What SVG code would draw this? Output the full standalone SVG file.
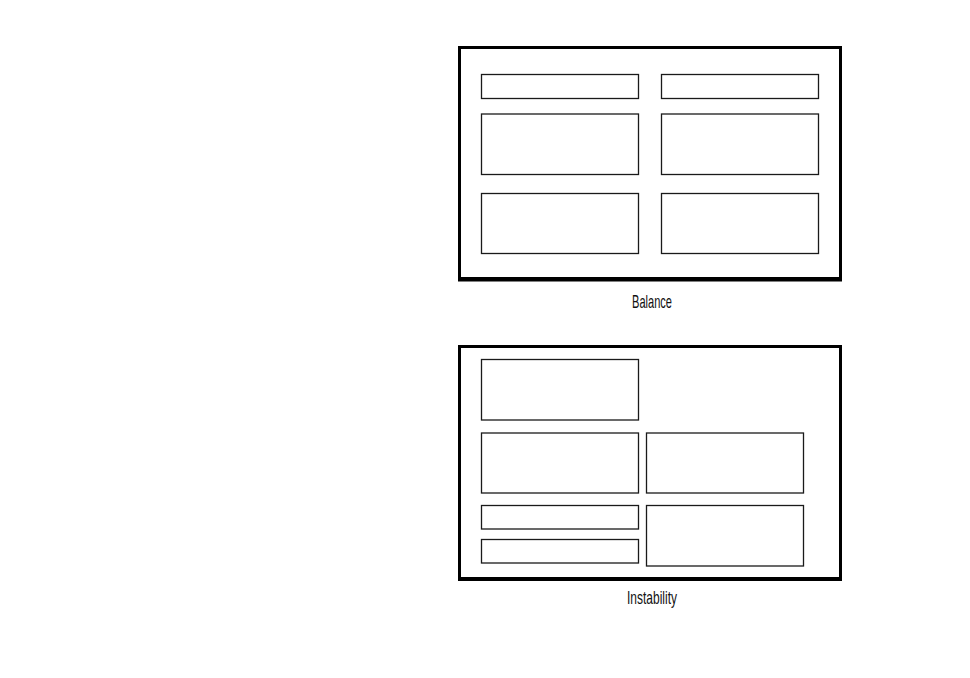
<svg xmlns="http://www.w3.org/2000/svg" width="970" height="678" viewBox="0 0 970 678">
<style>
.frame{fill:#fff;stroke:#000;stroke-width:3}
.box{fill:#fff;stroke:#1a1a1a;stroke-width:1.3}
.lbl{font-family:"Liberation Sans",Arial,sans-serif;font-size:19px;fill:#111;text-anchor:middle}
</style>
<rect width="970" height="678" fill="#fff"/>
<g id="balance">
<rect class="frame" x="459.5" y="47.5" width="381" height="231"/>
<line x1="458" y1="279.5" x2="842" y2="279.5" stroke="#000" stroke-width="4"/>
<rect id="b1" class="box" x="481.5" y="74.5" width="157" height="24"/>
<rect id="b2" class="box" x="661.5" y="74.5" width="157" height="24"/>
<rect id="b3" class="box" x="481.5" y="114" width="157" height="60.5"/>
<rect id="b4" class="box" x="661.5" y="114" width="157" height="60.5"/>
<rect id="b5" class="box" x="481.5" y="193.5" width="157" height="60"/>
<rect id="b6" class="box" x="661.5" y="193.5" width="157" height="60"/>
<text class="lbl" x="652" y="307.5" textLength="40" lengthAdjust="spacingAndGlyphs">Balance</text>
</g>
<g id="instability">
<rect class="frame" x="459.5" y="346.5" width="381" height="232"/>
<line x1="458" y1="579" x2="842" y2="579" stroke="#000" stroke-width="4"/>
<rect id="i1" class="box" x="481.5" y="359.5" width="157" height="60.5"/>
<rect id="i2" class="box" x="481.5" y="433" width="157" height="60"/>
<rect id="i3" class="box" x="646.5" y="433" width="157" height="60"/>
<rect id="i4" class="box" x="481.5" y="505.5" width="157" height="23.5"/>
<rect id="i5" class="box" x="481.5" y="539.5" width="157" height="23.5"/>
<rect id="i6" class="box" x="646.5" y="505.5" width="157" height="60.5"/>
<text class="lbl" x="652" y="603.5" textLength="50" lengthAdjust="spacingAndGlyphs">Instability</text>
</g>
<g id="connectors"/>
</svg>
